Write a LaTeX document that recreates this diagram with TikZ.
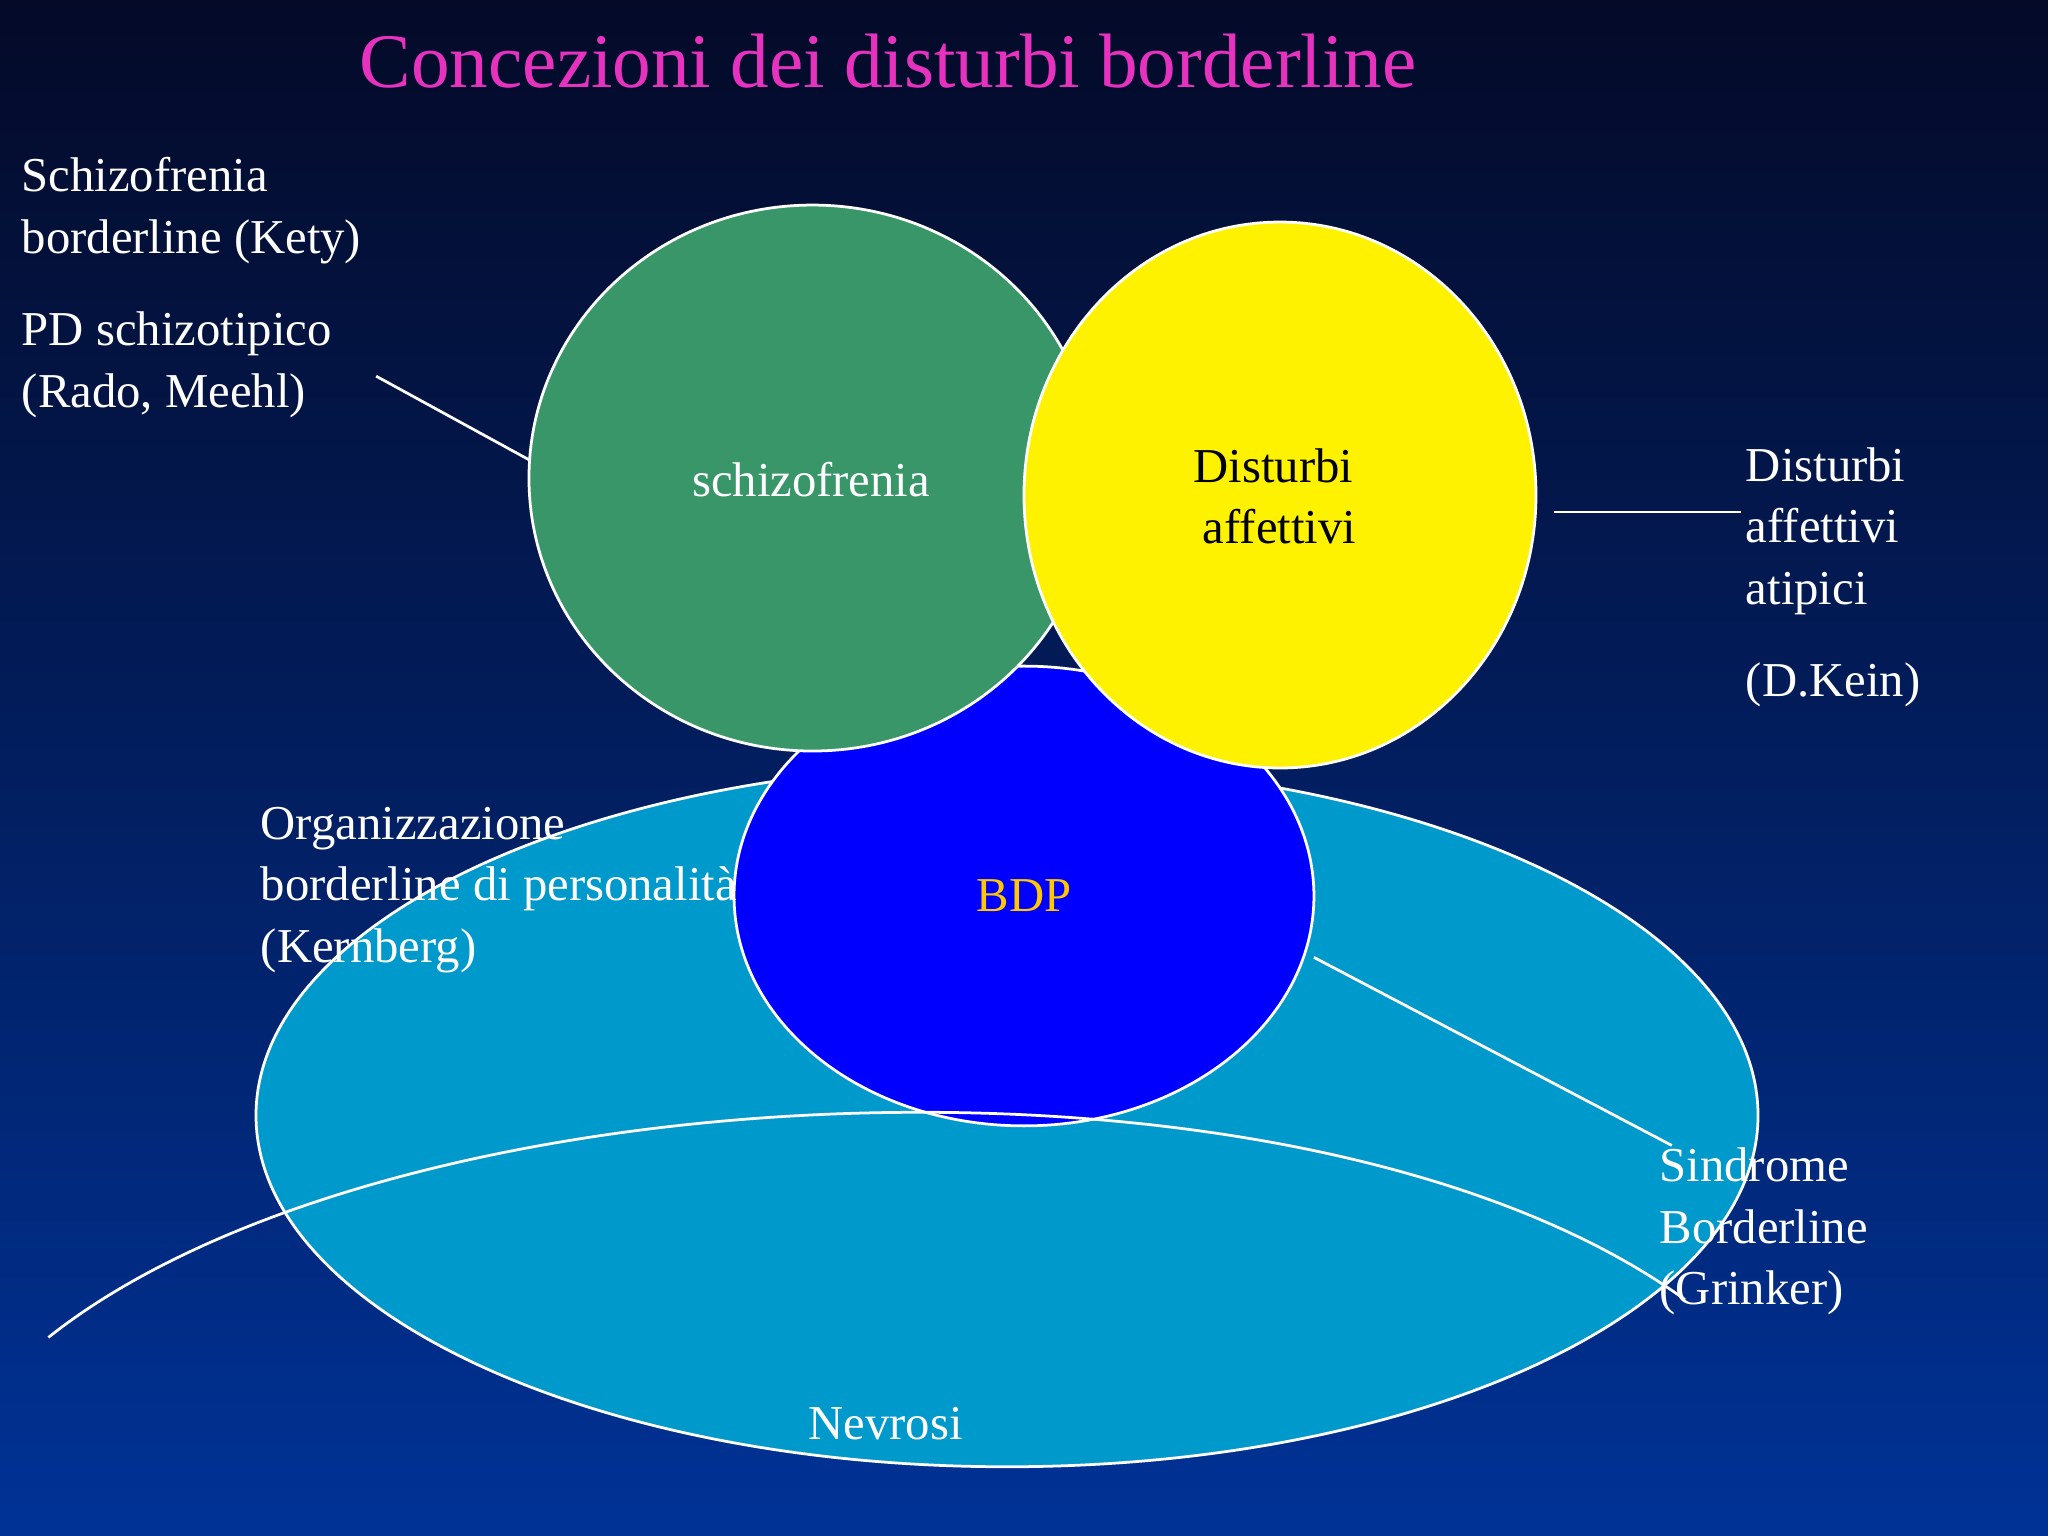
\documentclass[tikz,border=0pt]{standalone}
\usepackage{fontspec}
\setmainfont{Liberation Serif}
\definecolor{bgtop}{RGB}{4,10,40}
\definecolor{bgbot}{RGB}{0,50,150}
\definecolor{cyanfill}{RGB}{0,153,204}
\definecolor{greenfill}{RGB}{56,150,105}
\definecolor{titlec}{RGB}{230,50,190}
\definecolor{bdpc}{RGB}{255,200,0}
\begin{document}
\begin{tikzpicture}[x=0.01cm,y=-0.01cm,
  lbl/.style={text=white,font=\fontsize{10.6}{13.4}\selectfont,align=left,anchor=north west,inner sep=0pt},
  shp/.style={draw=white,line width=0.6pt},
  ln/.style={draw=white,line width=0.6pt}]
\shade[top color=bgtop,bottom color=bgbot] (0,0) rectangle (1568,1176);
\useasboundingbox (0,0) rectangle (1568,1176);
\node[text=titlec,font=\fontsize{16.8}{20}\selectfont] (title) at (680,47) {Concezioni dei disturbi borderline};
\path[shp,fill=cyanfill] (771,854) ellipse [x radius=575,y radius=269];
\path[shp,fill=blue] (784,686) ellipse [x radius=222,y radius=176];
\path[shp,fill=greenfill] (622,366) ellipse [x radius=217,y radius=209];
\path[shp,fill=yellow] (980,379) ellipse [x radius=196,y radius=209];
\coordinate (nA) at (37,1024);
\coordinate (nB) at (1290,995);
\draw[ln] (nA) .. controls (300,815) and (1000,785) .. (nB);
\node[text=white,font=\fontsize{10.6}{13.4}\selectfont] (schizo) at (621,367) {schizofrenia};
\node[text=black,font=\fontsize{10.6}{13.4}\selectfont,align=center] (aff) at (975,380) {Disturbi\\ \ affettivi};
\node[text=bdpc,font=\fontsize{10.6}{13.4}\selectfont] (bdp) at (784,686) {BDP};
\node[text=white,font=\fontsize{10.6}{13.4}\selectfont] (nev) at (678,1090) {Nevrosi};
\node[lbl] (kety) at (16,120) {Schizofrenia\\borderline (Kety)};
\node[lbl] (rado) at (16,238) {PD schizotipico\\(Rado, Meehl)};
\node[lbl] (atip) at (1336,342) {Disturbi\\affettivi\\atipici};
\node[lbl] (kein) at (1336,507) {(D.Kein)};
\node[lbl] (kern) at (199,617) {Organizzazione\\borderline di personalità\\(Kernberg)};
\node[lbl] (grink) at (1270,878) {Sindrome\\Borderline\\(Grinker)};
\coordinate (l1a) at (288,288); \coordinate (l1b) at (405,352);
\coordinate (l2a) at (1190,392); \coordinate (l2b) at (1333,392);
\coordinate (l3a) at (1006,733); \coordinate (l3b) at (1280,877);
\draw[ln] (l1a) -- (l1b);
\draw[ln] (l2a) -- (l2b);
\draw[ln] (l3a) -- (l3b);
\end{tikzpicture}
\end{document}
